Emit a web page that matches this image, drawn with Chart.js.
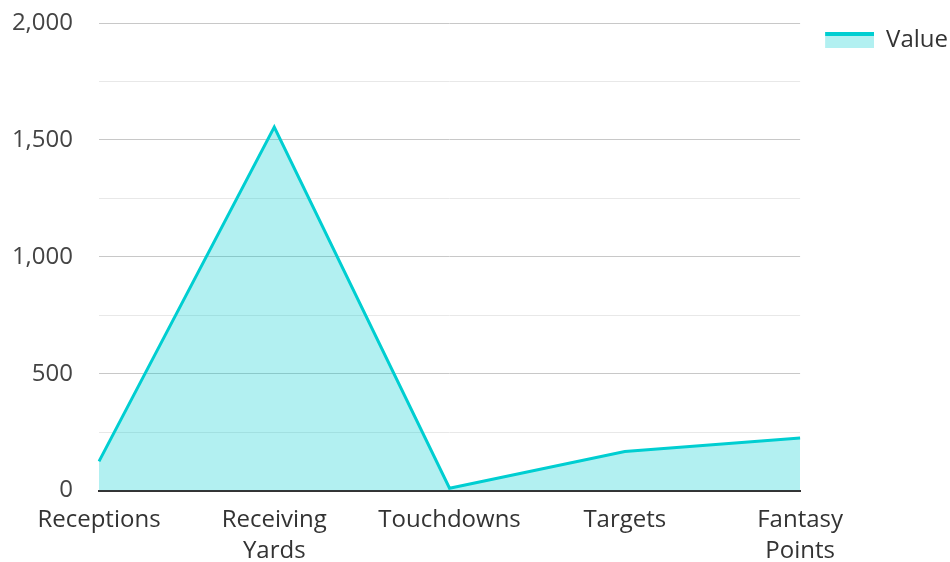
<!DOCTYPE html>
<html>
<head>
<meta charset="utf-8">
<script src="https://cdn.jsdelivr.net/npm/chart.js@4"></script>
<style>
  html, body { margin: 0; padding: 0; background: #fff; }
  .wrap { width: 950px; height: 562px; position: relative; }
</style>
</head>
<body>
<div class="wrap"><canvas id="chart"></canvas></div>
<script>
/* dados */
const categories = [['Receptions'], ['Receiving', 'Yards'], ['Touchdowns'], ['Targets'], ['Fantasy', 'Points']];
const values = [125, 1555, 10, 167, 225];
const seriesName = 'Value';

const lineColor = '#00CED1';
const fillColor = 'rgba(0, 206, 209, 0.3)';

/* amostra da legenda: faixa clara com linha grossa no topo (margem transparente à esquerda) */
const swatch = document.createElement('canvas');
swatch.width = 64; swatch.height = 16;
const sctx = swatch.getContext('2d');
sctx.fillStyle = fillColor;
sctx.fillRect(15, 0, 49, 16);
sctx.fillStyle = lineColor;
sctx.fillRect(15, 0, 49, 4);

Chart.defaults.font.family = '"Open Sans", "Noto Sans", sans-serif';
Chart.defaults.color = '#444';

new Chart(document.getElementById('chart'), {
  type: 'line',
  data: {
    labels: categories,
    datasets: [{
      label: seriesName,
      data: values,
      borderColor: lineColor,
      backgroundColor: fillColor,
      borderWidth: 3,
      fill: 'origin',
      pointRadius: 0,
      tension: 0
    }]
  },
  options: {
    responsive: true,
    maintainAspectRatio: false,
    animation: false,
    layout: { padding: { top: -11, right: -8, bottom: -11, left: 8 } },
    plugins: {
      legend: {
        position: 'right',
        align: 'start',
        title: { display: true, text: ' ', font: { size: 10, lineHeight: 1 }, padding: { top: 19, bottom: 0 } },
        labels: {
          usePointStyle: true,
          pointStyle: swatch,
          pointStyleWidth: 64,
          boxHeight: 16,
          font: { size: 24 },
          color: '#333',
          padding: 10
        }
      },
      tooltip: { enabled: false }
    },
    scales: {
      x: {
        offset: false,
        grid: { display: false },
        border: { color: '#333', width: 2 },
        ticks: { font: { size: 24, lineHeight: 1.3 }, color: '#333', maxRotation: 0, autoSkip: false, padding: 6 }
      },
      y: {
        min: 0,
        max: 2000,
        border: { display: false },
        afterFit: scale => { scale.width = 91; scale.paddingTop = 23; },
        grid: {
          drawTicks: false,
          color: ctx => (ctx.tick && ctx.tick.value % 500 === 0) ? '#c8c8c8' : '#e8e8e8',
          lineWidth: 1
        },
        ticks: {
          stepSize: 250,
          padding: 26,
          font: { size: 24 },
          color: '#444',
          callback: v => v % 500 === 0 ? v.toLocaleString('en-US') : ''
        }
      }
    }
  }
});
</script>
</body>
</html>
